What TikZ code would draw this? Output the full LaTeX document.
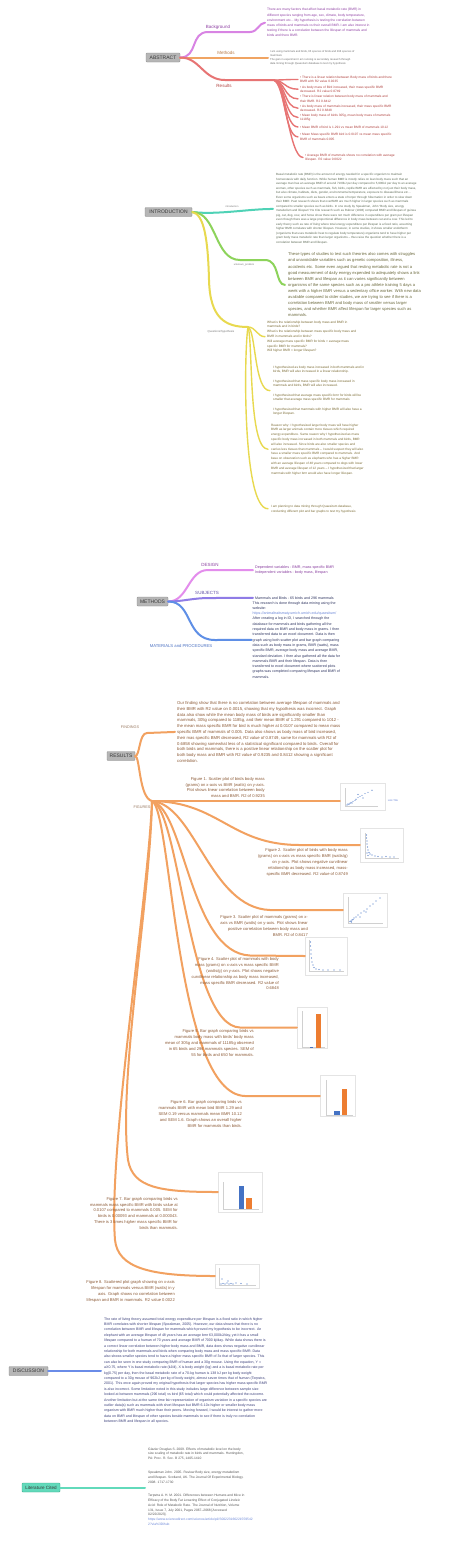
\documentclass[tikz,border=0pt]{standalone}
\usepackage{fontspec}
\setmainfont{Liberation Sans}
\usetikzlibrary{calc}
\definecolor{absbg}{HTML}{D884E3}
\definecolor{abstext}{HTML}{8E3FA3}
\definecolor{methorange}{HTML}{F0A463}
\definecolor{methlabel}{HTML}{B87A45}
\definecolor{methtext}{HTML}{6E6E6E}
\definecolor{resred}{HTML}{E77474}
\definecolor{restext}{HTML}{B0413E}
\definecolor{intteal}{HTML}{4FD2B6}
\definecolor{intgreen}{HTML}{8DD35B}
\definecolor{intyellow}{HTML}{E8D94F}
\definecolor{introtext}{HTML}{5D6A55}
\definecolor{unktext}{HTML}{6C6A3E}
\definecolor{qtext}{HTML}{7B6B34}
\definecolor{despink}{HTML}{E38DEC}
\definecolor{destext}{HTML}{8A3FA0}
\definecolor{subviolet}{HTML}{8F7CE6}
\definecolor{subtext}{HTML}{6150A8}
\definecolor{matblue}{HTML}{5F8FE6}
\definecolor{matlabel}{HTML}{4A70C2}
\definecolor{mattext}{HTML}{2F3561}
\definecolor{linkblue}{HTML}{6A86D8}
\definecolor{resorange}{HTML}{F2A160}
\definecolor{figtext}{HTML}{8C5A36}
\definecolor{reslabel}{HTML}{9A7A62}
\definecolor{discblue}{HTML}{6A8CE8}
\definecolor{disctext}{HTML}{3A3F7A}
\definecolor{litteal}{HTML}{62DABB}
\definecolor{littealdark}{HTML}{3AA88A}
\definecolor{littext}{HTML}{555555}
\definecolor{boxgray}{HTML}{B6B6B6}
\definecolor{boxline}{HTML}{8C8C8C}
\definecolor{plotblue}{HTML}{4472C4}
\definecolor{plotorange}{HTML}{ED7D31}
\definecolor{gridgray}{HTML}{D0D0D0}
\definecolor{framegray}{HTML}{E4E4E4}
\definecolor{lbltext}{HTML}{7A7A7A}
\newcommand\myfs[2]{\fontsize{#1}{#2}\selectfont}
\tikzset{
 br/.style={line width=2pt, line cap=round},
 brs/.style={line width=1.4pt, line cap=round},
 topic/.style={draw=boxline, fill=boxgray, line width=0.4pt, rounded corners=0.8pt, inner sep=0pt, minimum height=9pt, text=black!78, font=\myfs{5}{6}},
 txt/.style={anchor=north west, inner sep=0pt, align=left},
 rtxt/.style={anchor=north east, inner sep=0pt, align=right},
 lbl/.style={inner sep=0pt},
 figbox/.style={draw=framegray, fill=white, line width=0.3pt, inner sep=0pt},
 axisline/.style={draw=gridgray, line width=0.25pt},
 capt/.style={rtxt, text=figtext, font=\myfs{4.1}{5.9}},
 rit/.style={txt, text=restext, font=\myfs{3.2}{4.4}},
}
\begin{document}
\begin{tikzpicture}[x=1pt,y=-1pt]
\fill[white] (0,0) rectangle (474,1543);
\useasboundingbox (0,0) rectangle (474,1543);

% ================= ABSTRACT =================
\node[topic, minimum width=34pt] (abs) at (163,57.5) {ABSTRACT};
\node[txt, text=abstext, font=\myfs{3.3}{5.2}] (bgt) at (267,8.3) {There are many factors that affect basal metabolic rate (BMR) in\\
different species ranging from age, sex, climate, body temperature,\\
environment etc... My hypothesis is testing the correlation between\\
mass of birds and mammals vs their overall BMR. I am also interest in\\
testing if there is a correlation between the lifespan of mammals and\\
birds and there BMR.};
\node[lbl, text=abstext, font=\myfs{4.5}{5}] (bgl) at (218,27) {Background};
\draw[br, absbg] (abs.east) .. controls +(18,0) and (190,32) .. (208,32) -- (250,32) .. controls (258,32) and +(-6,0) .. ($(bgt.west)+(-2,0)$);

\node[txt, text=methtext, font=\myfs{2.7}{4.1}] (mtx) at (270,50.2) {I am using mammals and birds, 65 species of birds and 296 species of\\
mammals\\
The gain in experiment I am running is secondary research through\\
data mining through Quaesitum database to test my hypothesis};
\node[lbl, text=methlabel, font=\myfs{4.5}{5}] (mlb) at (226,53) {Methods};
\draw[br, methorange] (abs.east) -- ($(abs.east -| mtx.west)+(-2,0)$);

\coordinate (rj) at (273,80);
\node[lbl, text=restext, font=\myfs{4.5}{5}] (rlb) at (224,85.5) {Results};
\node[rit] (r1) at (300,75.9) {• There is a linear relation between Body mass of birds and there\\BMR with R2 value 0.9235};
\node[rit] (r2) at (300,85.6) {• As body mass of Bird increased, their mass specific BMR\\decreased. R2 value 0.8749};
\node[rit] (r3) at (300,95.3) {• There is linear relation between body mass of mammals and\\their BMR. R2 0.8412};
\node[rit] (r4) at (300,104.6) {• As body mass of mammals increased, their mass specific BMR\\decreased. R2 0.6848};
\node[rit] (r5) at (300,113.6) {• Mean body mass of birds 305g, mean body mass of mammals\\11185g};
\node[rit] (r6) at (300,125.6) {• Mean BMR of bird is 1.291 vs mean BMR of mammals 10.12};
\node[rit] (r7) at (300,133.3) {• Mean Mass specific BMR bird is 0.0107 vs mean mass specific\\BMR of mammals 0.005};
\node[rit] (r8) at (305,153.6) {• Average BMR of mammals shows no correlation with average\\lifespan. R2 value 0.0022};
\draw[br, resred] (abs.east) .. controls +(20,0) and (203,80) .. (225,80) -- (rj);
\foreach \n in {r1,r2,r3,r4,r5,r6,r7,r8}
  \draw[brs, resred] (rj) .. controls +(12,0) and +(-14,0) .. ($(\n.west)+(-2,0)$);

% ================= INTRODUCTION =================
\node[topic, minimum width=47pt] (intro) at (168.5,212) {INTRODUCTION};
\node[txt, text=introtext, font=\myfs{3.0}{4.5}] (itx) at (276,173.6) {Basal metabolic rate (BMR) is the amount of energy needed for a specific organism to maintain\\
homeostasis with daily function. While human BMR is mostly relies on lean body mass such that an\\
average man has an average BMR of around 7100kJ per day compared to 5,900kJ per day to an average\\
woman, other species such as mammals, fish, birds, reptile BMR are affected by not just their body mass,\\
but also climate, habitats, diets, gender, environmental temperature, exposure to disease/illness etc...\\
Even some organisms such as bears enters a state of torpor through hibernation in order to slow down\\
their BMR. Past research shows that overBMR are much higher in larger species such as mammals\\
compared to smaller species such as birds. In one study by Speakman, John ``Body size, energy\\
metabolism and lifespan'' He Cite research such as Rubner (1908) compared BMR and lifespan of guinea\\
pig, cat, dog, cow, and horse show there were not much difference in expenditure per gram per lifespan\\
even though there was a large proportional difference in body mass between cat and a cow. This led to\\
early theory such as rate of living where total energy expenditure per lifespan is a fixed ratio, assuming\\
higher BMR correlates with shorter lifespan. However, in some studies, it shows smaller endotherm\\
(organisms that uses metabolic heat to regulate body temperature) organisms tend to have higher per\\
gram body mass metabolic rate than larger organisms – thus raise the question whether there is a\\
correlation between BMR and lifespan.};
\node[lbl, text=lbltext, font=\myfs{2.5}{3}] (ilb) at (232,207) {introduction};
\draw[br, intteal] (intro.east) .. controls +(25,3) and +(-25,0) .. ($(itx.west)+(-3,0)$);

\node[txt, text=unktext, font=\myfs{4.1}{6.1}] (utx) at (288,252.7) {These types of studies to test such theories also comes with struggles\\
and unavoidable variables such as genetic composition, illness,\\
accidents etc. Some even argued that resting metabolic rate is not a\\
good measurement of daily energy expended to adequately shows a link\\
between BMR and lifespan as it can varies significantly between\\
organisms of the same species such as a pro athlete training 5 days a\\
week with a higher BMR versus a sedentary office worker. With new data\\
available compared to older studies, we are trying to see if there is a\\
correlation between BMR and body mass of smaller versus larger\\
species, and whether BMR affect lifespan for larger species such as\\
mammals.};
\node[lbl, text=lbltext, font=\myfs{2.5}{3}] (ulb) at (244,265) {unknown\_problem};
\draw[br, intgreen] (intro.east) .. controls +(25,0) and (214,260) .. (240,260) -- (265,260) .. controls (280,260) and +(-10,0) .. ($(utx.west)+(-3,0)$);

\coordinate (yh) at (248,327);
\node[lbl, text=lbltext, font=\myfs{2.8}{3.2}] (qlb) at (221,332) {Questions/hypothesis};
\node[txt, text=qtext, font=\myfs{3.2}{4.8}] (qtx) at (267,320.6) {What is the relationship between body mass and BMR in\\
mammals and in birds?\\
What is the relationship between mass specific body mass and\\
BMR in mammals and in birds?\\
Will average mass specific BMR for birds > average mass\\
specific BMR for mammals?\\
Will higher BMR = longer lifespan?};
\node[txt, text=qtext, font=\myfs{3.2}{4.7}] (htx) at (273,365.6) {I hypothesized as body mass increased in both mammals and in\\
birds, BMR will also increased in a linear relationship.\\[4.6pt]
I hypothesized that mass specific body mass increased in\\
mammals and birds, BMR will also increased.\\[4.6pt]
I hypothesized that average mass specific bmr for birds will be\\
smaller that average mass specific BMR for mammals\\[4.6pt]
I hypothesized that mammals with higher BMR will also have a\\
longer lifespan.};
\node[txt, text=qtext, font=\myfs{3.15}{4.8}] (rtx) at (271,423.6) {Reason why: I hypothesized larger body mass will have higher\\
BMR as larger animals contain more tissues which required\\
energy expenditure. Same reason why I hypothesized as mass\\
specific body mass increased in both mammals and birds, BMR\\
will also increased. Since birds are also smaller species and\\
carries less tissues than mammals – I would suspect they will also\\
have a smaller mass specific BMR compared to mammals. And\\
base on observation such as elephants who has a higher BMR\\
with an average lifespan of 48 years compared to dogs with lower\\
BMR and average lifespan of 12 years – I hypothesized that larger\\
mammals with higher bmr would also have longer lifespan.};
\node[txt, text=qtext, font=\myfs{3.1}{5}] (ptx) at (271,504.6) {I am planning to data mining through Quaesitum database,\\
conducting different plot and bar graphs to test my hypothesis};
\draw[br, intyellow] (intro.east) .. controls +(12,2) and (208,240) .. (209,280) .. controls (210,318) and (225,327) .. (yh);
\draw[brs, intyellow] (yh) .. controls +(8,0) and +(-8,0) .. ($(qtx.west)+(-2,0)$);
\draw[brs, intyellow] (yh) .. controls (256,330) and (254,391) .. ($(htx.west)+(-3,0)$);
\draw[brs, intyellow] (yh) .. controls (253,340) and (248,449) .. ($(rtx.west)+(-3,0)$);
\draw[brs, intyellow] (yh) .. controls (244,350) and (242,509) .. ($(ptx.west)+(-3,0)$);

% ================= METHODS =================
\node[topic, minimum width=31pt] (meth) at (152.5,601.5) {METHODS};
\node[lbl, text=destext, font=\myfs{4.5}{5}] (dlb) at (210,565) {DESIGN};
\node[txt, text=destext, font=\myfs{3.7}{5.7}] (dtx) at (255,565.4) {Dependent variables - BMR, mass specific BMR\\
Independent variables - body mass, lifespan};
\draw[br, despink] (meth.east) .. controls +(20,0) and (188,570) .. (208,570) -- ($(dtx.west)+(-2,0)$);

\node[lbl, text=subtext, font=\myfs{4.5}{5}] (slb) at (207,593) {SUBJECTS};
\node[txt, text=mattext, font=\myfs{3.6}{5.3}] (stx) at (255,596.4) {Mammals and Birds - 65 birds and 296 mammals};
\draw[br, subviolet] (meth.east) .. controls +(15,0) and (192,598) .. (210,598) -- ($(stx.west)+(-2,0)$);

\node[txt, text=mattext, font=\myfs{3.6}{5.3}] (mtx2) at (252.5,601.2) {This research is done through data mining using the\\
website:\\
\textcolor{linkblue}{https://animaltraitsmaty.umich.umich.edu/quaesitum/}\\
After creating a log in ID, I searched through the\\
database for mammals and birds gathering all the\\
required data on BMR and body mass in grams. I then\\
transferred data to an excel document. Data is then\\
graph using both scatter plot and bar graph comparing\\
data such as body mass in grams, BMR (watts), mass\\
specific BMR, average body mass and average BMR,\\
standard deviation. I then also gathered all the data for\\
mammals BMR and their lifespan. Data is then\\
transferred to excel document where scattered plots\\
graphs was completed comparing lifespan and BMR of\\
mammals.};
\node[lbl, text=matlabel, font=\myfs{4.2}{5}] (malb) at (181,646) {MATERIALS and PROCEDURES};
\draw[br, matblue] (meth.east) .. controls +(25,0) and (185,640) .. (215,640) -- ($(mtx2.west)+(-1,0)$);

% ================= RESULTS =================
\node[topic, minimum width=28pt] (res) at (121,756) {RESULTS};
\node[lbl, text=reslabel, font=\myfs{3.8}{4.5}] (flb) at (130,727) {FINDINGS};
\node[txt, text=figtext, font=\myfs{4.2}{5.8}] (ftx) at (177,701.2) {Our finding show that there is no correlation between average lifespan of mammals and\\
their BMR with R2 value on 0.0015, showing that my hypothesis was incorrect. Graph\\
data also show while the mean body mass of birds are significantly smaller than\\
mammals, 305g compared to 1185g, and their mean BMR of 1.291 compared to 1012 -\\
the mean mass specific BMR for bird is much higher at 0.0107 compared to mean mass\\
specific BMR of mammals of 0.005. Data also shows as body mass of bird increased,\\
their mas specific BMR decreased, R2 value of 0.8749, same for mammals with R2 of\\
0.6858 showing somewhat less of a statistical significant compared to birds. Overall for\\
both birds and mammals, there is a positive linear relationship on the scatter plot for\\
both body mass and BMR with R2 value of 0.9235 and 0.8412 showing a significant\\
correlation.};
\draw[br, resorange] (res.east) .. controls (140,756) and (139,733) .. (147,733) -- ($(ftx.west)+(-2,0)$);

\coordinate (fh) at (152,801);
\node[lbl, text=reslabel, font=\myfs{3.8}{4.5}] (fglb) at (142,807) {FIGURES};
\draw[br, resorange] (res.east) .. controls (140,756) and (139,798) .. (fh);

% figure thumbnails
\node[figbox, minimum width=45pt, minimum height=27pt] (g1) at (362.5,796.5) {};
\node[figbox, minimum width=43pt, minimum height=34pt] (g2) at (381.5,845) {};
\node[figbox, minimum width=44pt, minimum height=34pt] (g3) at (365,910) {};
\node[figbox, minimum width=42pt, minimum height=38pt] (g4) at (326,956) {};
\node[figbox, minimum width=30pt, minimum height=41pt] (g5) at (312,1027.5) {};
\node[figbox, minimum width=35pt, minimum height=41pt] (g6) at (337.5,1096) {};
\node[figbox, minimum width=44pt, minimum height=40pt] (g7) at (240,1192) {};
\node[figbox, minimum width=44pt, minimum height=24pt] (g8) at (237,1276) {};
\node[lbl, text=linkblue, font=\myfs{2.6}{3}] (lt1) at (393,801) {Link Title};

% thumbnail contents
\draw[axisline] (345,788) -- (345,806) -- (378,806);
\foreach \a/\b in {347/805,348/804,349/804.6,350/803.2,351/802.4,352/803,353/801.4,355/800.4,356/799.2,358/797.6,360/796.4,362/795.4,365/793.6,368/792.4,372/790.2,358/794.5,363/798}
  \fill[plotblue] (\a,\b) circle (0.55pt);
\draw[axisline] (365,833) -- (365,858) -- (399,858);
\foreach \a/\b in {366.5/835,366.5/838,367/841,367/844,367.5/847,368/850,369/852.5,370/854,372/855,375/856,378/856.5,382/857,386/856.5,390/857,394/857,367/853,368/855.5}
  \fill[plotblue] (\a,\b) circle (0.55pt);
\draw[axisline] (348,897) -- (348,923) -- (383,923);
\foreach \a/\b in {350/921.5,351/921,352/920,351.5/922,353/919.5,354/918,356/917,358/915,361/913,364/911,367/909,370/906,373/904,376/901,380/898,360/917,366/912}
  \fill[plotblue] (\a,\b) circle (0.55pt);
\draw[axisline] (309,940) -- (309,971) -- (344,971);
\foreach \a/\b in {310.5/942,310.5/946,311/950,311/954,311.5/958,312/962,313/965,314/967.5,316/969,319/969.5,323/970,328/970,334/970,340/970}
  \fill[plotblue] (\a,\b) circle (0.55pt);
\draw[axisline] (302,1011) -- (302,1047.5) -- (325,1047.5);
\fill[plotorange] (316,1014) rectangle (321,1047.5);
\fill[plotblue] (310,1046.5) rectangle (313,1047.5);
\draw[axisline] (326,1080) -- (326,1115) -- (353,1115);
\fill[plotorange] (342,1089) rectangle (347,1115);
\fill[plotblue] (334,1111) rectangle (340,1115);
\draw[axisline] (223,1182) -- (223,1209) -- (259,1209);
\fill[plotblue] (239,1186) rectangle (244,1209);
\fill[plotorange] (246,1198) rectangle (252,1209);
\draw[axisline] (219,1268) -- (219,1285) -- (256,1285);
\foreach \a/\b in {221/1284,223/1283.5,225/1284,227/1283,229/1284,231/1283.5,233/1284,236/1283,222/1279,228/1281,241/1283.5,247/1284}
  \fill[plotblue] (\a,\b) circle (0.55pt);

% figure connectors
\draw[br, resorange] (fh) -- (fh -| g1.west);
\draw[br, resorange] (fh) .. controls (220,802) and (230,845) .. (300,845) -- (g2.west);
\draw[br, resorange] (fh) .. controls (195,805) and (210,908) .. (270,910) -- (g3.west);
\draw[br, resorange] (fh) .. controls (185,810) and (190,953) .. (250,955.5) -- (g4.west);
\draw[br, resorange] (fh) .. controls (180,810) and (188,1026) .. (240,1027.5) -- (g5.west);
\draw[br, resorange] (fh) .. controls (172,810) and (175,1094) .. (245,1096) -- (g6.west);
\draw[br, resorange] (fh) .. controls (150,900) and (118,1080) .. (128,1160) .. controls (133,1188) and (160,1192) .. (g7.west);
\draw[br, resorange] (fh) .. controls (148,900) and (108,1150) .. (115,1240) .. controls (118,1268) and (150,1276) .. (g8.west);

% captions
\node[capt] (c1) at (265,777) {Figure 1. Scatter plot of birds body mass\\
(grams) on x-axis vs BMR (watts) on y-axis.\\
Plot shows linear correlation between body\\
mass and BMR. R2 of 0.9235};
\node[capt] (c2) at (348,848.7) {Figure 2. Scatter plot of birds with body mass\\
(grams) on x-axis vs mass specific BMR (watts/g)\\
on y-axis. Plot shows negative curvilinear\\
relationship as body mass increased, mass-\\
specific BMR decreased. R2 value of 0.8749};
\node[capt] (c3) at (308,915.7) {Figure 3. Scatter plot of mammals (grams) on x-\\
axis vs BMR (watts) on y-axis. Plot shows linear\\
positive correlation between body mass and\\
BMR. R2 of 0.8417};
\node[capt] (c4) at (279,957.3) {Figure 4. Scatter plot of mammals with body\\
mass (grams) on x-axis vs mass specific BMR\\
(watts/g) on y-axis. Plot shows negative\\
curvilinear relationship as body mass increased,\\
mass specific BMR decreased. R2 value of\\
0.6848};
\node[capt] (c5) at (254,1029.7) {Figure 5. Bar graph comparing birds vs\\
mammals body mass with birds' body mass\\
mean of 305g and mammals of 11185g observed\\
in 65 birds and 296 mammals species. SEM of\\
55 for birds and 650 for mammals.};
\node[capt] (c6) at (242,1100.7) {Figure 6. Bar graph comparing birds vs\\
mammals BMR with mean bird BMR 1.29 and\\
SEM 0.19 versus mammals mean BMR 10.12\\
and SEM 1.6. Graph shows an overall higher\\
BMR for mammals than birds.};
\node[capt] (c7) at (178,1197) {Figure 7. Bar graph comparing birds vs\\
mammals mass specific BMR with birds value at\\
0.0107 compared to mammals 0.005. SEM for\\
birds is 0.00093 and mammals at 0.000043.\\
There is 3 times higher mass specific BMR for\\
birds than mammals.};
\node[capt] (c8) at (175,1280.7) {Figure 8. Scattered plot graph showing on x-axis\\
lifespan for mammals versus BMR (watts) in y\\
axis. Graph shows no correlation between\\
lifespan and BMR in mammals. R2 value 0.0022};

% ================= DISCUSSION =================
\node[topic, minimum width=39pt] (disc) at (28.5,1371) {DISCUSSION};
\node[txt, text=disctext, font=\myfs{3.55}{5.4}] (dstx) at (104,1317.4) {The rate of living theory assumed total energy expenditure per lifespan is a fixed ratio in which higher\\
BMR correlates with shorter lifespan (Speakman, 2005). However, our data shows that there is no\\
correlation between BMR and lifespan for mammals which proved my hypothesis to be incorrect. An\\
elephant with an average lifespan of 48 years has an average bmr 63,000kJ/day, yet it has a small\\
lifespan compared to a human of 70 years and average BMR of 7000 kj/day. While data shows there is\\
a correct linear correlation between higher body mass and BMR, data does shows negative curvilinear\\
relationship for both mammals and birds when comparing body mass and mass specific BMR. Data\\
also shows smaller species tend to have a higher mass specific BMR of 3x that of larger species. This\\
can also be seen in one study comparing BMR of human and a 30g mouse. Using the equation, Y =\\
aX0.75, where Y is basal metabolic rate (kJ/d), X is body weight (kg) and a is basal metabolic rate per\\
kg(0.75) per day, then the basal metabolic rate of a 70-kg human is 138 kJ per kg body weight\\
compared to a 30g mouse of 962kJ per kg of body weight, almost seven times that of human (Terpstra,\\
2001). This once again proved my original hypothesis that larger species has higher mass specific BMR\\
is also incorrect. Some limitation noted in this study includes large difference between sample size\\
looked at between mammals (296 total) vs bird (65 total) which could potentially affected the outcome.\\
Another limitation but at the same time fair representation of organism variation in a specific species are\\
outlier data(s) such as mammals with short lifespan but BMR 6-10x higher or smaller body mass\\
organism with BMR much higher than their peers. Moving forward, I would be interest to gather more\\
data on BMR and lifespan of other species beside mammals to see if there is truly no correlation\\
between BMR and lifespan in all species.};
\draw[br, discblue] (disc.east) -- ($(disc.east -| dstx.west)+(-3,0)$);

% ================= LITERATURE =================
\node[topic, fill=litteal, draw=littealdark, minimum width=38pt, font=\myfs{4.6}{5.5}] (lit) at (41,1487.5) {Literature Cited};
\node[txt, text=littext, font=\myfs{3.3}{4.8}] (ref) at (148,1447.4) {Glazier Douglas S. 2009. Effects of metabolic level on the body\\
size scaling of metabolic rate in birds and mammals. Huntingdon,\\
PA: Proc. R. Soc. B 275, 1405-1410\\[9.2pt]
Speakman John. 2005. Review Body size, energy metabolism\\
and lifespan. Scotland, UK. The Journal Of Experimental Biology.\\
2008. 1717-1730\\[8.6pt]
Terpstra A. H. M. 2001. Differences between Humans and Mice in\\
Efficacy of the Body Fat Lowering Effect of Conjugated Linoleic\\
Acid: Role of Metabolic Rate. The Journal of Nutrition, Volume\\
131, Issue 7, July 2001, Pages 2067–2068 [Accessed\\
02/22/2023].\\
\textcolor{linkblue}{https://www.sciencedirect.com/science/article/pii/S00223166221559542}\\
\textcolor{linkblue}{2?via\%3Dihub}};
\draw[br, litteal] (lit.east) -- ($(lit.east -| ref.west)+(-3,0)$);
\end{tikzpicture}
\end{document}
